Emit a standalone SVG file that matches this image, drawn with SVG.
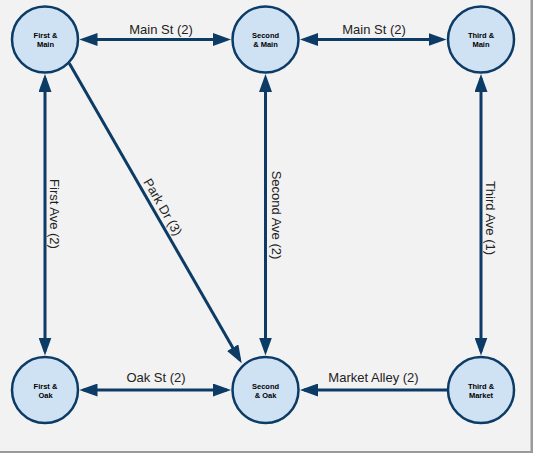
<svg xmlns="http://www.w3.org/2000/svg" width="533" height="453" viewBox="0 0 533 453">
<style>
.edge{stroke:#0c3b66;stroke-width:3;fill:none}
.node circle{fill:#cfe2f3;stroke:#0c3b66;stroke-width:2.5}
.node text{font-family:"Liberation Sans",Arial,sans-serif;font-size:7.5px;font-weight:bold;fill:#000;text-anchor:middle}
.lbl{font-family:"Liberation Sans",Arial,sans-serif;font-size:13px;fill:#222;text-anchor:middle}
</style>
<defs>
<marker id="arr" markerUnits="userSpaceOnUse" markerWidth="18" markerHeight="13" refX="14" refY="6.5" orient="auto-start-reverse" viewBox="0 0 18 13">
<path d="M0,0 L18,6.5 L0,13 Z" fill="#0c3b66"/>
</marker>
</defs>
<rect x="0" y="0" width="533" height="453" fill="#9a9a9a"/>
<rect x="0" y="0" width="530.5" height="451" fill="#f2f2f2"/>
<g id="connectors">
<line class="edge" x1="83.5" y1="39.5" x2="227" y2="39.5" marker-start="url(#arr)" marker-end="url(#arr)"/>
<line class="edge" x1="304" y1="39.5" x2="442.5" y2="39.5" marker-start="url(#arr)" marker-end="url(#arr)"/>
<line class="edge" x1="45" y1="78" x2="45" y2="351.5" marker-start="url(#arr)" marker-end="url(#arr)"/>
<line class="edge" x1="265.5" y1="78" x2="265.5" y2="351.5" marker-start="url(#arr)" marker-end="url(#arr)"/>
<line class="edge" x1="481" y1="78" x2="481" y2="351.5" marker-start="url(#arr)" marker-end="url(#arr)"/>
<line class="edge" x1="83.5" y1="390" x2="227" y2="390" marker-start="url(#arr)" marker-end="url(#arr)"/>
<line class="edge" x1="448" y1="390" x2="304" y2="390" marker-end="url(#arr)"/>
<line class="edge" x1="69.3" y1="63.3" x2="239.7" y2="359.8" marker-end="url(#arr)"/>
<text class="lbl" x="161" y="34">Main St (2)</text>
<text class="lbl" x="374" y="34">Main St (2)</text>
<text class="lbl" x="156" y="382">Oak St (2)</text>
<text class="lbl" x="373.5" y="382">Market Alley (2)</text>
<text class="lbl" transform="translate(50,214) rotate(90)">First Ave (2)</text>
<text class="lbl" transform="translate(272,215) rotate(90)">Second Ave (2)</text>
<text class="lbl" transform="translate(486,218) rotate(90)">Third Ave (1)</text>
<text class="lbl" transform="translate(159,209.3) rotate(60)">Park Dr (3)</text>
</g>
<g id="first-main" class="node"><circle cx="45" cy="39.5" r="33"/><text x="45.5" y="38">First &amp;</text><text x="45.5" y="47">Main</text></g>
<g id="second-main" class="node"><circle cx="265.5" cy="39.5" r="33"/><text x="265.5" y="38">Second</text><text x="265.5" y="47">&amp; Main</text></g>
<g id="third-main" class="node"><circle cx="481" cy="39.5" r="33"/><text x="481" y="38">Third &amp;</text><text x="481" y="47">Main</text></g>
<g id="first-oak" class="node"><circle cx="45" cy="390" r="33"/><text x="45.5" y="388.5">First &amp;</text><text x="45.5" y="397.5">Oak</text></g>
<g id="second-oak" class="node"><circle cx="265.5" cy="390" r="33"/><text x="265.5" y="388.5">Second</text><text x="265.5" y="397.5">&amp; Oak</text></g>
<g id="third-market" class="node"><circle cx="481" cy="390" r="33"/><text x="481" y="388.5">Third &amp;</text><text x="481" y="397.5">Market</text></g>
</svg>
